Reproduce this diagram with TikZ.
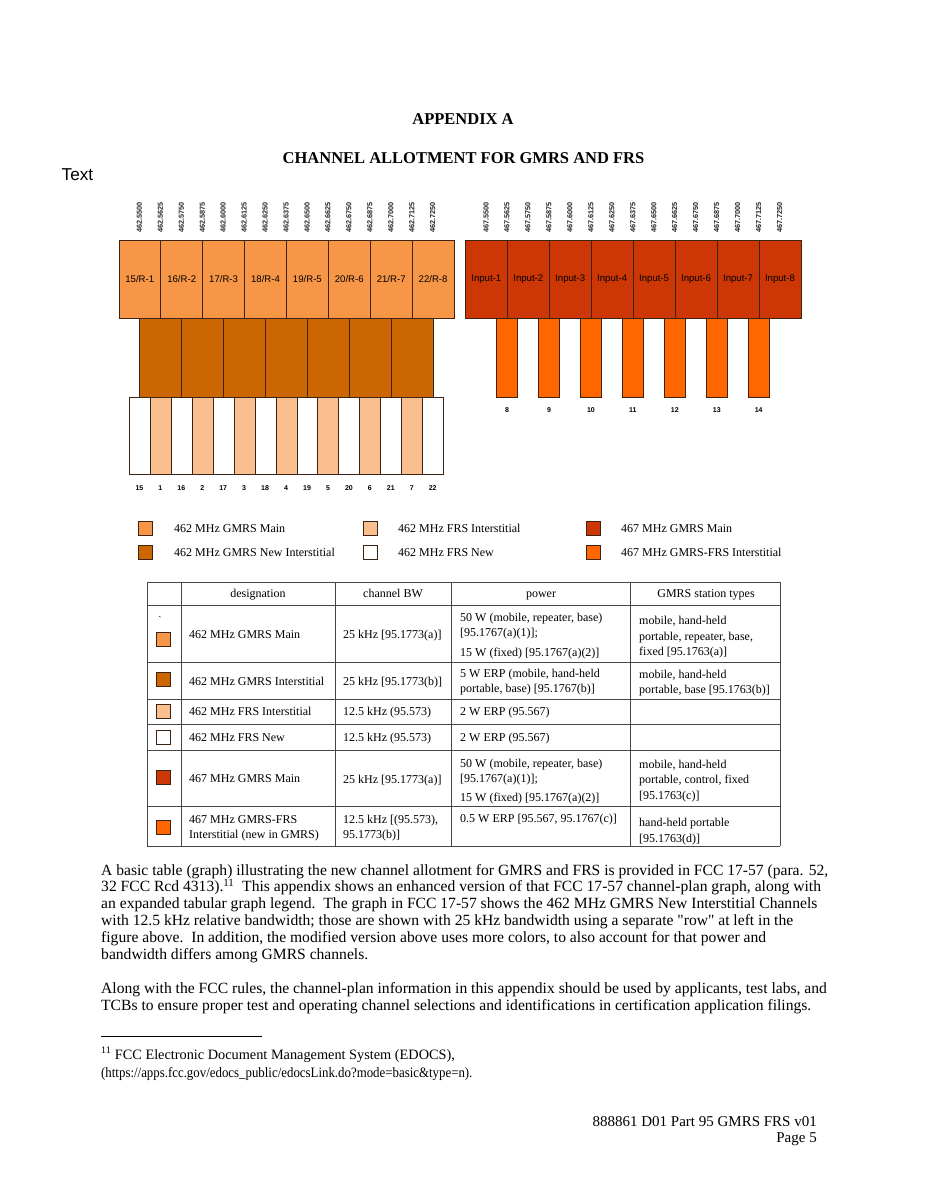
\documentclass[tikz,border=0pt]{standalone}
\usepackage{fontspec}
\setmainfont{Liberation Serif}
\newfontfamily\plainserif{Liberation Serif}
\newfontfamily\arialf{Liberation Sans}
\definecolor{mainA}{RGB}{247,150,70}
\definecolor{intA}{RGB}{204,102,0}
\definecolor{frsint}{RGB}{250,191,143}
\definecolor{mainB}{RGB}{205,55,5}
\definecolor{intB}{RGB}{255,102,0}
\definecolor{boxline}{RGB}{60,35,20}
\definecolor{tablegray}{RGB}{70,70,70}
\begin{document}
\begin{tikzpicture}[x=1pt,y=-1pt,
  freq/.style={font=\arialf\bfseries\fontsize{7.3}{8}\selectfont, text=black!85, rotate=90, inner sep=0},
  chbox/.style={draw=boxline, line width=0.7pt, inner sep=0, anchor=north west, font=\arialf\fontsize{9.6}{10}\selectfont},
  num/.style={font=\arialf\bfseries\fontsize{7}{8}\selectfont, inner sep=0},
  lg/.style={font=\fontsize{12}{14}\selectfont, inner sep=0, anchor=base west},
  tc/.style={font=\fontsize{12}{14}\selectfont, inner sep=0, anchor=base},
  sw/.style={draw=boxline, line width=0.8pt, minimum size=14pt, inner sep=0},
  body/.style={font=\fontsize{15.6}{16.8}\selectfont, inner sep=0, anchor=base west},
  foot/.style={font=\fontsize{14.3}{16}\selectfont, inner sep=0, anchor=base west},
  head/.style={font=\bfseries\fontsize{16.5}{18}\selectfont, inner sep=0, anchor=base},
  tl/.style={draw=tablegray, line width=0.9pt}
]
\useasboundingbox[fill=white] (0,0) rectangle (927,1200);

% headings
\node[head] (h1) at (463,124.5) {APPENDIX A};
\node[head] (h2) at (463.5,163.5) {CHANNEL ALLOTMENT FOR GMRS AND FRS};
\node[font=\arialf\fontsize{17.2}{19}\selectfont, inner sep=0, anchor=base west] (txt) at (61.5,180.5) {Text};

% ---------- 462 MHz group ----------
\foreach \f [count=\i from 0] in {5500,5625,5750,5875,6000,6125,6250,6375,6500,6625,6750,6875,7000,7125,7250}
  \node[freq] (fa\i) at ({139.4+20.95*\i},217.5) {462.\f};
\foreach \k in {0,...,7}{
  \pgfmathtruncatemacro\a{15+\k}
  \pgfmathtruncatemacro\b{1+\k}
  \node[chbox, fill=mainA, minimum width=41.9pt, minimum height=78pt] (ma\k) at ({118.5+41.9*\k},240) {\a/R-\b};
}
\foreach \k in {0,...,6}
  \node[chbox, fill=intA, minimum width=41.9pt, minimum height=79pt] (ia\k) at ({139.4+41.9*\k},318) {};
\foreach \i in {0,2,...,14}
  \node[chbox, fill=white, minimum width=20.95pt, minimum height=77pt] (fr\i) at ({128.9+20.95*\i},397) {};
\foreach \i in {1,3,...,13}
  \node[chbox, fill=frsint, minimum width=20.95pt, minimum height=77pt] (fr\i) at ({128.9+20.95*\i},397) {};
\foreach \n [count=\i from 0] in {15,1,16,2,17,3,18,4,19,5,20,6,21,7,22}
  \node[num] (na\i) at ({139.4+20.95*\i},488) {\n};

% ---------- 467 MHz group ----------
\foreach \f [count=\i from 0] in {5500,5625,5750,5875,6000,6125,6250,6375,6500,6625,6750,6875,7000,7125,7250}
  \node[freq] (fb\i) at ({486+20.97*\i},217.5) {467.\f};
\foreach \k in {0,...,7}{
  \pgfmathtruncatemacro\b{1+\k}
  \node[chbox, fill=mainB, minimum width=41.95pt, minimum height=78pt] (mb\k) at ({465+41.95*\k},240) {Input-\b};
}
\foreach \k in {0,...,6}{
  \pgfmathtruncatemacro\n{8+\k}
  \node[chbox, fill=intB, minimum width=21pt, minimum height=79pt, anchor=north] (ib\k) at ({507+41.95*\k},318) {};
  \node[num] (nb\k) at ({507+41.95*\k},410) {\n};
}

% ---------- legend ----------
\node[sw, fill=mainA] (l1) at (145,528) {};
\node[lg] (lt1) at (174,532) {462 MHz GMRS Main};
\node[sw, fill=intA] (l2) at (145,552) {};
\node[lg] (lt2) at (174,556) {462 MHz GMRS New Interstitial};
\node[sw, fill=frsint] (l3) at (370,528) {};
\node[lg] (lt3) at (398,532) {462 MHz FRS Interstitial};
\node[sw, fill=white] (l4) at (370,552) {};
\node[lg] (lt4) at (398,556) {462 MHz FRS New};
\node[sw, fill=mainB] (l5) at (593,528) {};
\node[lg] (lt5) at (621,532) {467 MHz GMRS Main};
\node[sw, fill=intB] (l6) at (593,552) {};
\node[lg] (lt6) at (621,556) {467 MHz GMRS-FRS Interstitial};

% ---------- table ----------
\foreach \y in {582,605.5,662,699,724,750.5,806.5,846}
  \draw[tl] (147,\y) -- (780,\y);
\foreach \x in {147,181,335,451,630,780}
  \draw[tl] (\x,582) -- (\x,846);
% header
\node[tc] (th1) at (258,597) {designation};
\node[tc] (th2) at (393,597) {channel BW};
\node[tc] (th3) at (541,597) {power};
\node[tc] (th4) at (706,597) {GMRS station types};
% swatches
\node[font=\plainserif\fontsize{10}{10}\selectfont, inner sep=0] (tick) at (160,620) {`};
\node[sw, fill=mainA] (s1) at (163,639) {};
\node[sw, fill=intA] (s2) at (163,679) {};
\node[sw, fill=frsint] (s3) at (163,711.5) {};
\node[sw, fill=white] (s4) at (163,737.5) {};
\node[sw, fill=mainB] (s5) at (163,777.7) {};
\node[sw, fill=intB] (s6) at (163,827) {};
% row 1
\node[lg] (r1a) at (189,638) {462 MHz GMRS Main};
\node[lg] (r1b) at (343,638) {25 kHz [95.1773(a)]};
\node[lg] (r1c) at (460,621) {50 W (mobile, repeater, base)};
\node[lg] (r1d) at (460,636.5) {[95.1767(a)(1)];};
\node[lg] (r1e) at (460,656) {15 W (fixed) [95.1767(a)(2)]};
\node[lg] (r1f) at (639,624.5) {mobile, hand-held};
\node[lg] (r1g) at (639,640) {portable, repeater, base,};
\node[lg] (r1h) at (639,655) {fixed [95.1763(a)]};
% row 2
\node[lg] (r2a) at (189,685) {462 MHz GMRS Interstitial};
\node[lg] (r2b) at (343,685) {25 kHz [95.1773(b)]};
\node[lg] (r2c) at (460,677.5) {5 W ERP (mobile, hand-held};
\node[lg] (r2d) at (460,692.5) {portable, base) [95.1767(b)]};
\node[lg] (r2f) at (639,678.5) {mobile, hand-held};
\node[lg] (r2g) at (639,693.5) {portable, base [95.1763(b)]};
% row 3
\node[lg] (r3a) at (189,715.5) {462 MHz FRS Interstitial};
\node[lg] (r3b) at (343,715.5) {12.5 kHz (95.573)};
\node[lg] (r3c) at (460,715.5) {2 W ERP (95.567)};
% row 4
\node[lg] (r4a) at (189,741.5) {462 MHz FRS New};
\node[lg] (r4b) at (343,741.5) {12.5 kHz (95.573)};
\node[lg] (r4c) at (460,741.5) {2 W ERP (95.567)};
% row 5
\node[lg] (r5a) at (189,782) {467 MHz GMRS Main};
\node[lg] (r5b) at (343,783) {25 kHz [95.1773(a)]};
\node[lg] (r5c) at (460,767) {50 W (mobile, repeater, base)};
\node[lg] (r5d) at (460,782) {[95.1767(a)(1)];};
\node[lg] (r5e) at (460,801) {15 W (fixed) [95.1767(a)(2)]};
\node[lg] (r5f) at (639,768) {mobile, hand-held};
\node[lg] (r5g) at (639,783) {portable, control, fixed};
\node[lg] (r5h) at (639,799) {[95.1763(c)]};
% row 6
\node[lg] (r6a) at (189,823) {467 MHz GMRS-FRS};
\node[lg] (r6b) at (189,838) {Interstitial (new in GMRS)};
\node[lg] (r6c) at (343,823) {12.5 kHz [(95.573),};
\node[lg] (r6d) at (343,838) {95.1773(b)]};
\node[lg] (r6e) at (460,822) {0.5 W ERP [95.567, 95.1767(c)]};
\node[lg] (r6f) at (639,826) {hand-held portable};
\node[lg] (r6g) at (639,842) {[95.1763(d)]};

% ---------- body text ----------
\node[body] (p1) at (101,875) {A basic table (graph) illustrating the new channel allotment for GMRS and FRS is provided in FCC 17-57 (para. 52,};
\node[body] (p2) at (101,891.8) {32 FCC Rcd 4313).\textsuperscript{11}\ \ This appendix shows an enhanced version of that FCC 17-57 channel-plan graph, along with};
\node[body] (p3) at (101,908.6) {an expanded tabular graph legend.\ \ The graph in FCC 17-57 shows the 462 MHz GMRS New Interstitial Channels};
\node[body] (p4) at (101,925.4) {with 12.5 kHz relative bandwidth; those are shown with 25 kHz bandwidth using a separate {\plainserif"}row{\plainserif"} at left in the};
\node[body] (p5) at (101,942.2) {figure above.\ \ In addition, the modified version above uses more colors, to also account for that power and};
\node[body] (p6) at (101,959) {bandwidth differs among GMRS channels.};
\node[body] (p7) at (101,993) {Along with the FCC rules, the channel-plan information in this appendix should be used by applicants, test labs, and};
\node[body] (p8) at (101,1010) {TCBs to ensure proper test and operating channel selections and identifications in certification application filings.};
\coordinate (rs) at (101,1036);
\coordinate (re) at (262,1036);
\draw[line width=0.8pt] (rs) -- (re);
\node[foot] (fn1) at (101,1059) {\textsuperscript{11} FCC Electronic Document Management System (EDOCS),};
\node[foot] (fn2) at (101,1077) {\scalebox{0.9}[1]{(https://apps.fcc.gov/edocs\_public/edocsLink.do?mode=basic\&type=n).}};
\node[body, font=\fontsize{15}{16}\selectfont, anchor=base east] (ft1) at (817,1126) {888861 D01 Part 95 GMRS FRS v01};
\node[body, font=\fontsize{15}{16}\selectfont, anchor=base east] (ft2) at (817,1142) {Page 5};
\end{tikzpicture}
\end{document}
